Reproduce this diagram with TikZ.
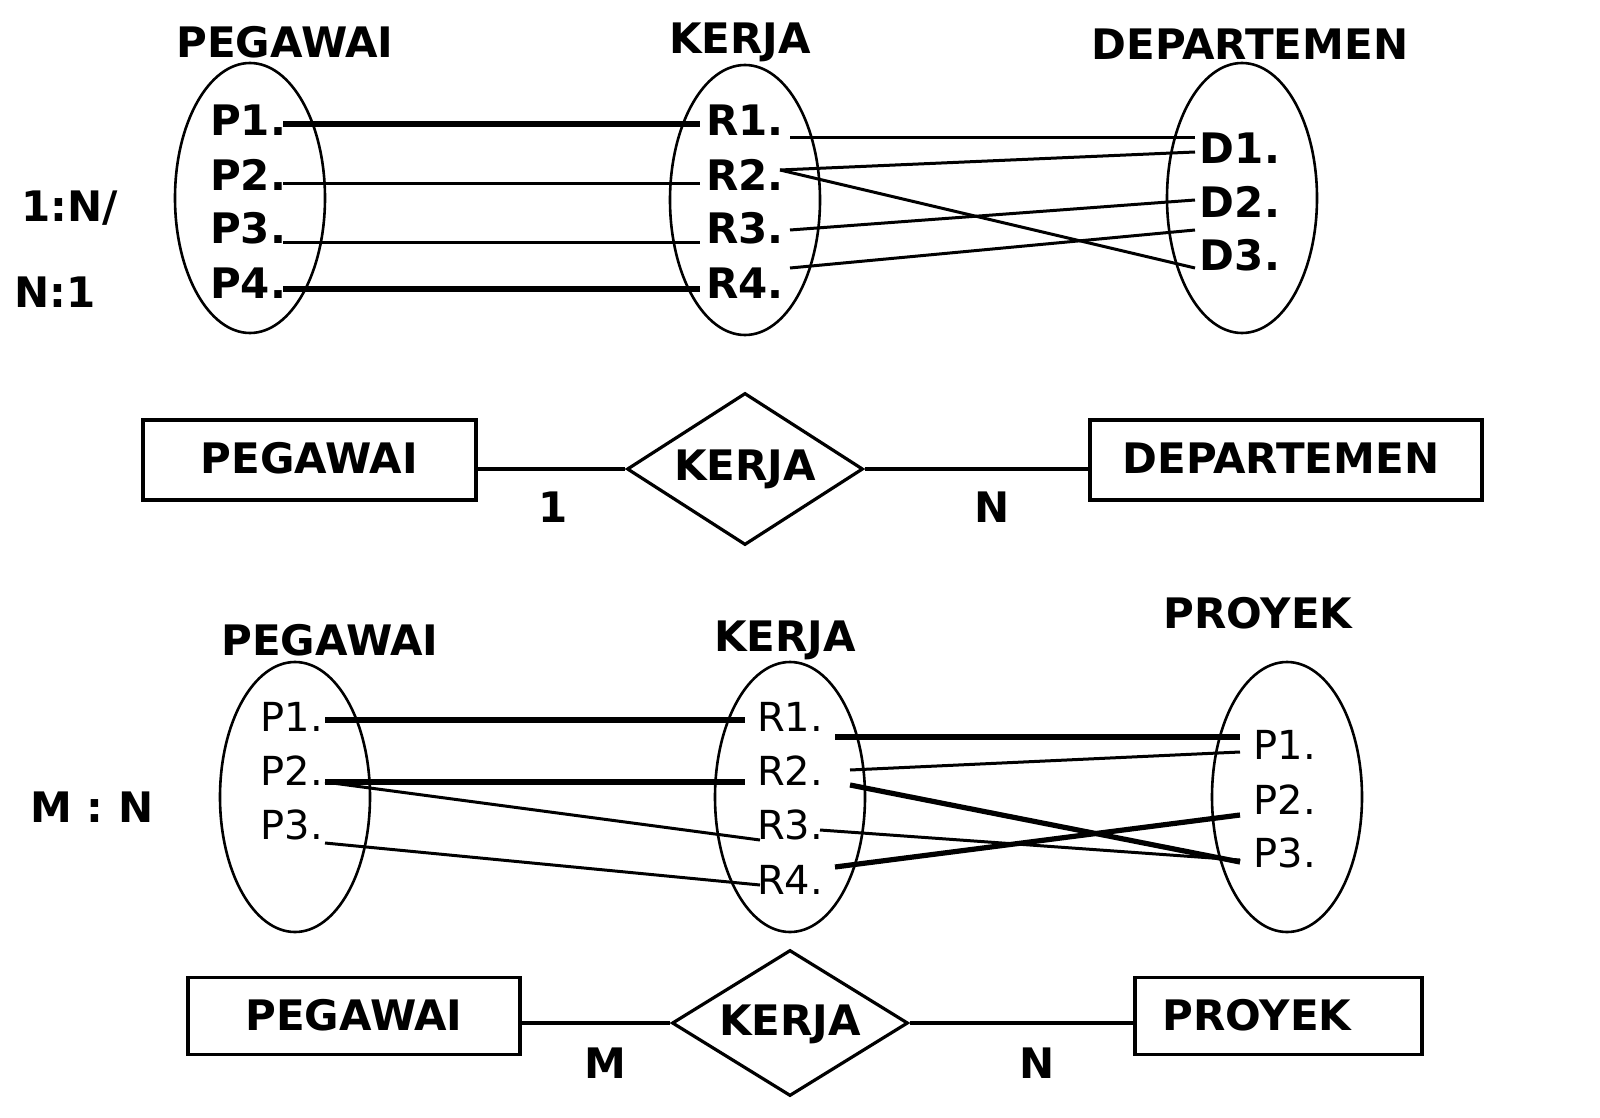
\documentclass[tikz,border=0pt]{standalone}
\usepackage{fontspec}
\setmainfont{DejaVu Sans}
\usetikzlibrary{shapes.geometric}
\begin{document}
\begin{tikzpicture}[x=0.5pt,y=-0.5pt,
  ttl/.style={font=\fontsize{21}{21}\selectfont\bfseries},
  itm/.style={font=\fontsize{21}{21}\selectfont\bfseries},
  itl/.style={font=\fontsize{20}{20}\selectfont},
  ell/.style={draw,line width=1.3pt},
  thk/.style={line width=2.6pt},
  thn/.style={line width=1.5pt},
  ent/.style={draw,line width=1.6pt},
  rel/.style={draw,diamond,aspect=1.57,line width=1.6pt,inner sep=0pt,minimum width=118pt,minimum height=76pt}]
\useasboundingbox (0,0) rectangle (1600,1118);
% ---------- top
\node[ttl] (t1) at (285,42) {PEGAWAI};
\node[ttl] (t2) at (740,42) {KERJA};
\node[ttl] (t3) at (1250,44) {DEPARTEMEN};
\draw[ell] (250,198) ellipse [x radius=75,y radius=135];
\draw[ell] (745,200) ellipse [x radius=75,y radius=135];
\draw[ell] (1242,198) ellipse [x radius=75,y radius=135];
\foreach \i/\y in {1/120,2/175,3/228,4/283}{
  \node[itm] (p\i) at (248,\y) {P\i.};
  \node[itm] (r\i) at (745,\y) {R\i.};}
\foreach \i/\y in {1/148,2/202,3/255}{\node[itm] (d\i) at (1240,\y) {D\i.};}
\coordinate (a1) at (283,124); \coordinate (b1) at (700,124);
\coordinate (a2) at (283,184); \coordinate (b2) at (700,184);
\coordinate (a3) at (283,243); \coordinate (b3) at (700,243);
\coordinate (a4) at (283,289); \coordinate (b4) at (700,289);
\draw[thk] (a1)--(b1); \draw[thn] (a2)--(b2); \draw[thn] (a3)--(b3); \draw[thk] (a4)--(b4);
\coordinate (c1) at (790,138); \coordinate (e1) at (1195,138);
\coordinate (c2) at (780,170); \coordinate (e2) at (1195,152);
\coordinate (e3) at (1195,268);
\coordinate (c3) at (790,230); \coordinate (e4) at (1195,200);
\coordinate (c4) at (790,268); \coordinate (e5) at (1195,230);
\draw[thn] (c1)--(e1); \draw[thn] (c2)--(e2); \draw[thn] (c2)--(e3);
\draw[thn] (c3)--(e4); \draw[thn] (c4)--(e5);
\node[itm] (l1) at (70,208) {1:N/};
\node[itm] (l2) at (55,292) {N:1};
% ---------- ER 1
\node[ent,minimum width=166.5pt,minimum height=40pt] (E1) at (309.5,460) {};
\node[ttl] at (309.5,458) {PEGAWAI};
\node[rel] (K1) at (745,469) {};
\node[ttl] at (745,469) {KERJA};
\node[ent,minimum width=196pt,minimum height=40pt] (E2) at (1286,460) {};
\node[ttl] at (1281,458) {DEPARTEMEN};
\draw[line width=2.2pt] (E1.east|-K1) -- (K1.west);
\draw[line width=2.2pt] (K1.east) -- (E2.west|-K1);
\node[itm] (m1) at (553,507) {1};
\node[itm] (m2) at (992,507) {N};
% ---------- bottom
\node[ttl] (u1) at (330,640) {PEGAWAI};
\node[ttl] (u2) at (785,640) {KERJA};
\node[ttl] (u3) at (1258,613) {PROYEK};
\draw[ell] (295,797) ellipse [x radius=75,y radius=135];
\draw[ell] (790,797) ellipse [x radius=75,y radius=135];
\draw[ell] (1287,797) ellipse [x radius=75,y radius=135];
\foreach \i/\y in {1/717,2/771,3/825}{\node[itl] (q\i) at (292,\y) {P\i.};}
\foreach \i/\y in {1/717,2/771,3/825,4/880}{\node[itl] (s\i) at (790,\y) {R\i.};}
\foreach \i/\y in {1/745,2/800,3/853}{\node[itl] (w\i) at (1285,\y) {P\i.};}
\coordinate (f1) at (325,720); \coordinate (g1) at (745,720);
\coordinate (f2) at (325,782); \coordinate (g2) at (745,782);
\coordinate (g3) at (760,840);
\coordinate (f3) at (325,843); \coordinate (g4) at (760,885);
\draw[thk] (f1)--(g1); \draw[thk] (f2)--(g2); \draw[thn] (f2)--(g3); \draw[thn] (f3)--(g4);
\coordinate (h1) at (835,737); \coordinate (k1) at (1240,737);
\coordinate (h2) at (850,770); \coordinate (k2) at (1240,752);
\coordinate (h3) at (850,785); \coordinate (k3) at (1240,862);
\coordinate (h4) at (820,830); \coordinate (k4) at (1240,860);
\coordinate (h5) at (835,867); \coordinate (k5) at (1240,815);
\draw[thk] (h1)--(k1); \draw[thn] (h2)--(k2); \draw[thk] (h3)--(k3);
\draw[thn] (h4)--(k4); \draw[thk] (h5)--(k5);
\node[itm] (mn) at (92,807) {M : N};
% ---------- ER 2
\node[ent,minimum width=166pt,minimum height=38.5pt] (E3) at (354,1016) {};
\node[ttl] at (354,1015) {PEGAWAI};
\node[rel,minimum height=73pt] (K2) at (790,1023) {};
\node[ttl] at (790,1024) {KERJA};
\node[ent,minimum width=143.5pt,minimum height=38.5pt] (E4) at (1278.5,1016) {};
\node[ttl] at (1257,1015) {PROYEK};
\draw[line width=1.8pt] (E3.east|-K2) -- (K2.west);
\draw[line width=1.8pt] (K2.east) -- (E4.west|-K2);
\node[itm] (m3) at (605,1063) {M};
\node[itm] (m4) at (1037,1063) {N};
\end{tikzpicture}
\end{document}
